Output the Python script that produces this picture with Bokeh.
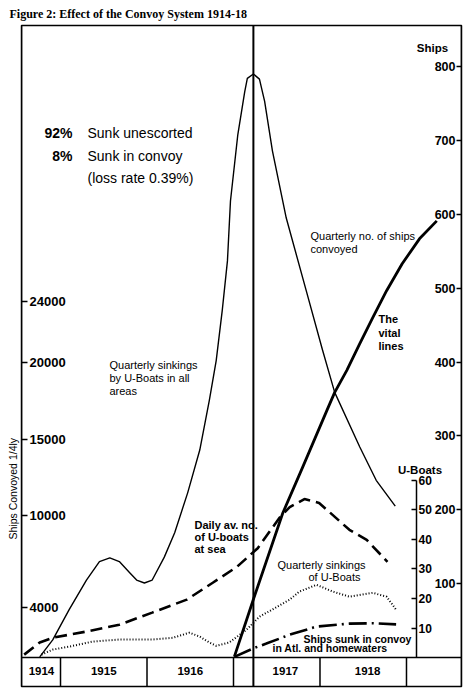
from bokeh.plotting import figure
from bokeh.models import Range1d, LinearAxis, FixedTicker, Span, Label, Title
from bokeh.embed import file_html
from bokeh.resources import INLINE

# ---------------- data (x = decimal years) ----------------
# Quarterly sinkings by U-Boats in all areas (Ships, right scale)
sink_all_t = [1914.76, 1914.91, 1915.10, 1915.30, 1915.45, 1915.57, 1915.68, 1915.80,
              1915.88, 1915.97, 1916.06, 1916.20, 1916.32, 1916.47, 1916.61, 1916.72,
              1916.80, 1916.87, 1916.93, 1916.965, 1917.05, 1917.13, 1917.16, 1917.23,
              1917.30, 1917.36, 1917.45, 1917.61, 1917.84, 1918.03, 1918.17, 1918.46,
              1918.65, 1918.87]
sink_all_ships = [1, 24, 65, 105, 130, 135, 130, 115,
                  105, 101, 105, 136, 169, 223, 281, 348,
                  402, 470, 537, 618, 708, 766, 784, 790,
                  783, 753, 686, 595, 497, 416, 359, 285,
                  240, 205]

# Quarterly no. of ships convoyed (left scale)
convoy_t = [1917.01, 1917.24, 1917.57, 1917.80, 1918.08, 1918.17, 1918.31,
            1918.46, 1918.61, 1918.77, 1918.95, 1919.15, 1919.35]
convoy_n = [757, 4675, 10160, 13163, 16886, 18061, 19504,
            21261, 22958, 24722, 26485, 28117, 29292]

# Daily average number of U-boats at sea (U-Boats scale)
uboats_sea_t = [1914.58, 1914.76, 1914.91, 1915.30, 1915.68, 1916.06, 1916.46, 1916.76,
                1917.04, 1917.28, 1917.53, 1917.65, 1917.82, 1917.99, 1918.34, 1918.54, 1918.78]
uboats_sea_n = [1.0, 5.1, 6.7, 8.8, 11.1, 15.2, 19.6, 25.3,
                30.7, 37.0, 47.2, 50.9, 53.6, 52.3, 43.2, 39.8, 32.4]

# Quarterly sinkings of U-Boats (U-Boats scale)
uboat_sunk_t = [1914.78, 1914.91, 1915.10, 1915.37, 1915.68, 1916.06, 1916.30, 1916.49,
                1916.61, 1916.72, 1916.80, 1916.95, 1917.15, 1917.30, 1917.65, 1917.76,
                1917.96, 1918.15, 1918.34, 1918.61, 1918.77, 1918.88]
uboat_sunk_n = [1.0, 2.7, 3.7, 5.4, 6.1, 6.1, 6.7, 8.4,
                7.1, 5.1, 4.0, 5.1, 9.4, 13.8, 19.6, 22.3,
                24.6, 22.3, 20.6, 21.9, 20.6, 16.2]

# Ships sunk in convoy in Atlantic and home waters (Ships scale)
convoy_loss_t = [1917.01, 1917.24, 1917.38, 1917.65, 1917.96, 1918.34, 1918.61, 1918.88]
convoy_loss_ships = [1, 13, 19, 31, 42, 46, 46.5, 45]

convoy_start = 1917.23
year_bounds = [1915, 1916, 1917, 1918, 1919]
year_labels = ["1914", "1915", "1916", "1917", "1918"]
year_label_pos = [1914.78, 1915.5, 1916.5, 1917.6, 1918.55]

ships_ticks = [100, 200, 300, 400, 500, 600, 700, 800]
convoy_ticks = [4000, 10000, 15000, 20000, 24000]
uboat_ticks = [10, 20, 30, 40, 50, 60]

# ---------------- figure ----------------
X0, X1 = 1914.549, 1919.636
S0, S1 = -39.1, 855.6
FONT = "Liberation Sans"

p = figure(width=465, height=694, x_range=Range1d(X0, X1), y_range=Range1d(S0, S1),
           x_axis_location=None, y_axis_location=None,
           toolbar_location=None, output_backend="svg",
           min_border_left=21, min_border_right=4, min_border_top=0, min_border_bottom=8,
           title="Figure 2: Effect of the Convoy System 1914-18")
p.extra_y_ranges = {"convoy": Range1d(-1201, 42089), "uboats": Range1d(-9.78, 213.76)}
p.xgrid.grid_line_color = None
p.ygrid.grid_line_color = None
p.outline_line_color = "black"
p.outline_line_width = 1.5
p.background_fill_color = "white"
p.border_fill_color = "white"

p.title.text_font = "Liberation Serif"
p.title.text_font_size = "12px"
p.title.text_font_style = "bold"
p.title.text_color = "black"
p.title.align = "left"
p.title.offset = -12
p.title.standoff = 9

# left-hand scale title (rotated, beside the left edge)
p.add_layout(Title(text="Ships Convoyed 1/4ly", align="left", offset=147, standoff=6,
                   text_font=FONT, text_font_size="10.5px", text_font_style="normal",
                   text_color="black"), "left")

def style_axis(ax, size):
    ax.major_label_text_font = FONT
    ax.major_label_text_font_size = size
    ax.major_label_text_font_style = "bold"
    ax.major_label_text_color = "black"
    ax.axis_line_color = "black"
    ax.axis_line_width = 1.5
    ax.major_tick_line_color = "black"
    ax.major_tick_line_width = 1.5
    ax.minor_tick_line_color = None

# Ships axis on the right edge (ticks & labels inside)
ships_axis = LinearAxis(ticker=FixedTicker(ticks=ships_ticks), fixed_location=X1,
                        major_tick_out=5, major_tick_in=0, major_label_standoff=1)
style_axis(ships_axis, "12.5px")
p.add_layout(ships_axis, "left")

# Ships convoyed axis on the left edge (ticks & labels inside)
convoy_axis = LinearAxis(y_range_name="convoy", ticker=FixedTicker(ticks=convoy_ticks),
                         fixed_location=X0, major_tick_out=6, major_tick_in=0,
                         major_label_standoff=2)
style_axis(convoy_axis, "13px")
p.add_layout(convoy_axis, "right")

# U-Boats axis inside the plot
uboat_axis = LinearAxis(y_range_name="uboats", ticker=FixedTicker(ticks=uboat_ticks),
                        fixed_location=1919.116, bounds=(0, 60),
                        major_tick_out=0, major_tick_in=5, major_label_standoff=2)
style_axis(uboat_axis, "12px")
p.add_layout(uboat_axis, "right")

# Year row
year_axis = LinearAxis(ticker=FixedTicker(ticks=year_label_pos), fixed_location=0,
                       major_tick_out=0, major_tick_in=0, major_label_standoff=9,
                       major_label_overrides={pos: lab for pos, lab in zip(year_label_pos, year_labels)})
style_axis(year_axis, "11.5px")
p.add_layout(year_axis, "below")

p.segment(x0=year_bounds, x1=year_bounds, y0=[S0] * len(year_bounds), y1=[0] * len(year_bounds),
          line_color="black", line_width=1.5)

p.add_layout(Span(location=convoy_start, dimension="height", line_color="black", line_width=2))

# ---------------- series ----------------
p.line(sink_all_t, sink_all_ships, line_color="black", line_width=1.4, line_join="round")
p.line(convoy_t, convoy_n, y_range_name="convoy", line_color="black", line_width=2.8,
       line_join="round")
p.line(uboats_sea_t, uboats_sea_n, y_range_name="uboats", line_color="black", line_width=2.6,
       line_dash="12 6")
p.line(uboat_sunk_t, uboat_sunk_n, y_range_name="uboats", line_color="black", line_width=2,
       line_dash="1 2")
p.line(convoy_loss_t, convoy_loss_ships, line_color="black", line_width=2.6,
       line_dash="18 5 2 5")

# ---------------- annotations ----------------
notes = [
    ("92%", 1915.139, 709.9, "default", "right", "14px", "bold"),
    ("Sunk unescorted", 1915.312, 709.9, "default", "left", "14px", "normal"),
    ("8%", 1915.139, 678.8, "default", "right", "14px", "bold"),
    ("Sunk in convoy", 1915.312, 678.8, "default", "left", "14px", "normal"),
    ("(loss rate 0.39%)", 1915.312, 649.1, "default", "left", "14px", "normal"),
    ("Quarterly sinkings", 1915.566, 395.4, "default", "left", "11px", "normal"),
    ("by U-Boats in all", 1915.566, 377.9, "default", "left", "11px", "normal"),
    ("areas", 1915.566, 360.3, "default", "left", "11px", "normal"),
    ("Quarterly no. of ships", 1917.890, 570.9, "default", "left", "11px", "normal"),
    ("convoyed", 1917.890, 553.3, "default", "left", "11px", "normal"),
    ("The", 1918.676, 458.8, "default", "left", "11px", "bold"),
    ("vital", 1918.676, 439.9, "default", "left", "11px", "bold"),
    ("lines", 1918.676, 422.4, "default", "left", "11px", "bold"),
    ("Daily av. no.", 1916.549, 179.5, "default", "left", "11px", "bold"),
    ("of U-boats", 1916.549, 163.3, "default", "left", "11px", "bold"),
    ("at sea", 1916.549, 147.1, "default", "left", "11px", "bold"),
    ("Quarterly sinkings", 1917.509, 125.5, "default", "left", "11px", "normal"),
    ("of U-Boats", 1917.867, 109.3, "default", "left", "11px", "normal"),
    ("Ships sunk in convoy", 1917.809, 25.6, "default", "left", "10.5px", "bold"),
    ("in Atl. and homewaters", 1917.451, 13.5, "default", "left", "10.5px", "bold"),
    ("Ships", 1919.301, 824.6, "default", "center", "11.5px", "bold"),
    ("U-Boats", 1919.156, 63.4, "uboats", "center", "11.5px", "bold"),
]
for text, x, y, rng, align, size, style in notes:
    p.add_layout(Label(x=x, y=y, y_range_name=rng, text=text, text_align=align,
                       text_baseline="middle", text_font=FONT, text_font_size=size,
                       text_font_style=style, text_color="black"))

open("out.html", "w").write(file_html(p, INLINE))
